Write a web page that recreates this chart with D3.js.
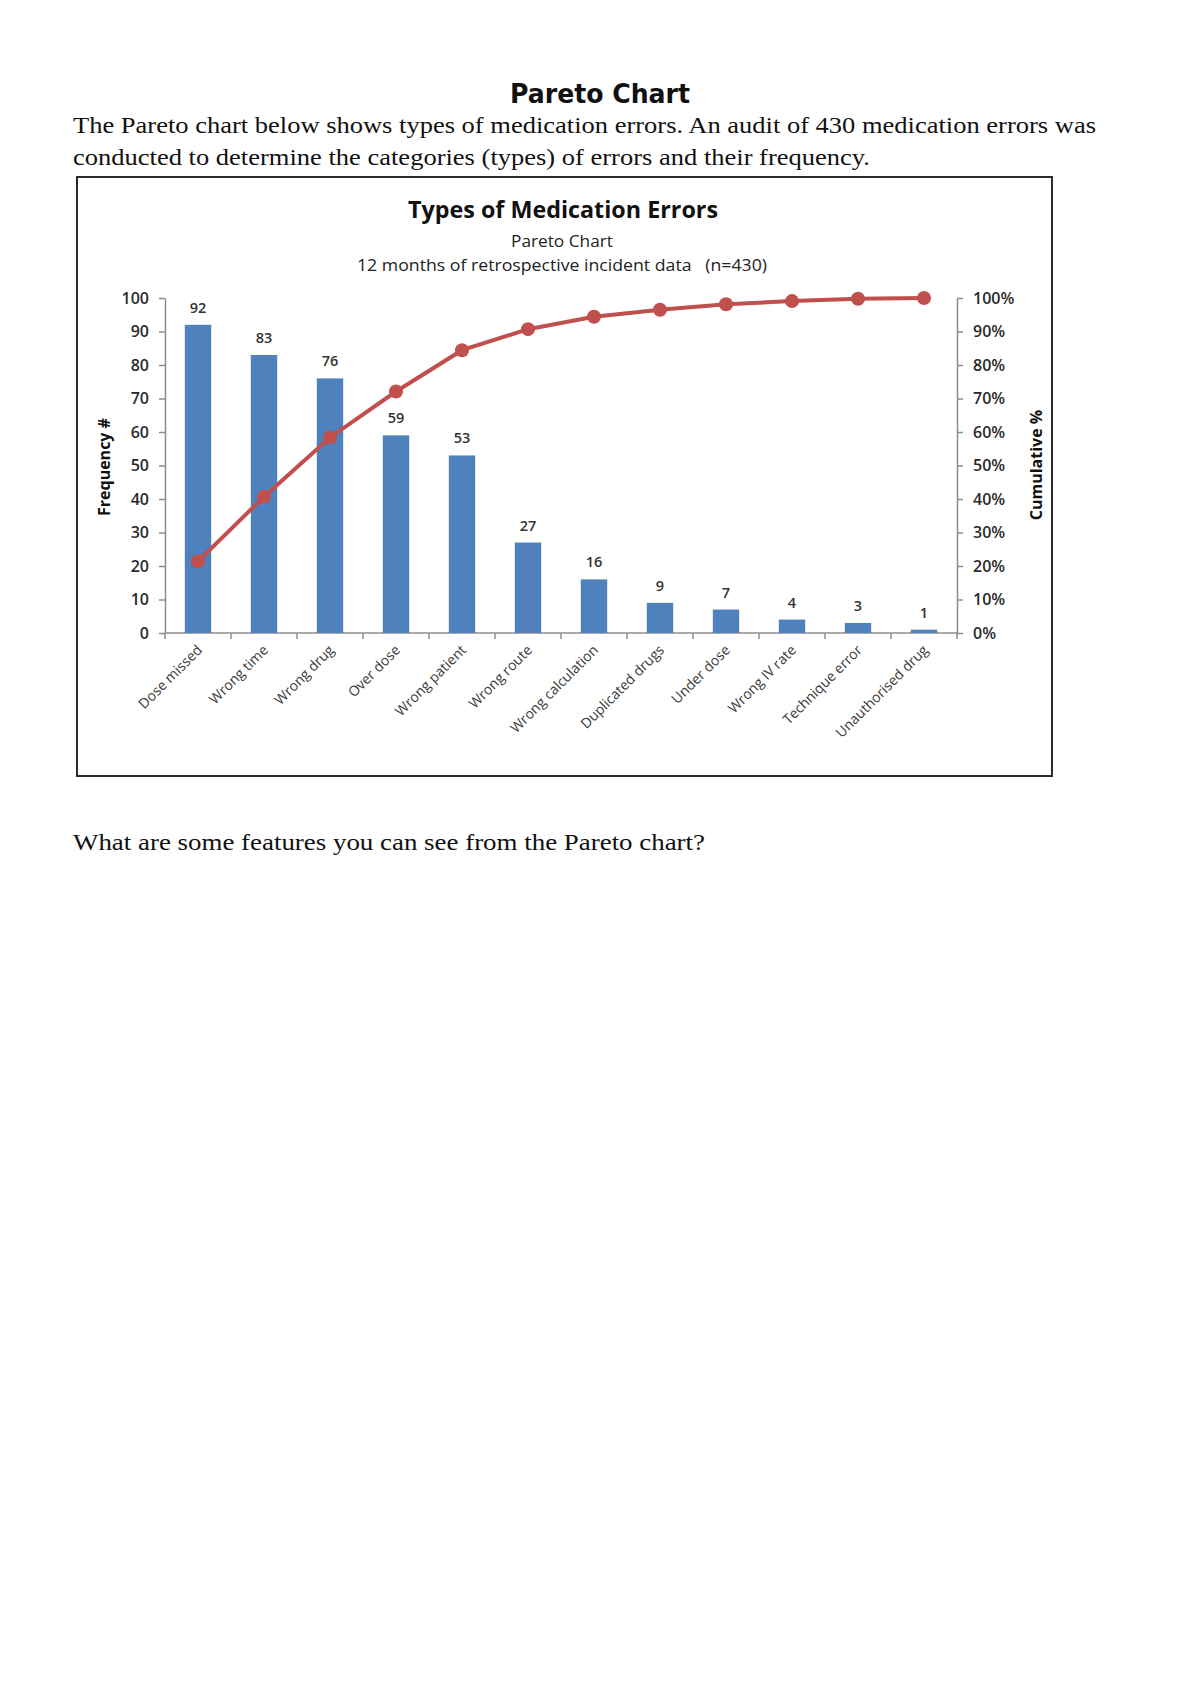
<!DOCTYPE html>
<html>
<head>
<meta charset="utf-8">
<script src="https://cdn.jsdelivr.net/npm/d3@7"></script>
<style>
  body { margin: 0; background: #fff; }
  svg { display: block; }
</style>
</head>
<body>
<div id="chart"></div>
<script>
const width = 1200;
const height = 1696;

// ---- data ----
const categories = [
  "Dose missed", "Wrong time", "Wrong drug", "Over dose", "Wrong patient",
  "Wrong route", "Wrong calculation", "Duplicated drugs", "Under dose",
  "Wrong IV rate", "Technique error", "Unauthorised drug"
];
const frequency = [92, 83, 76, 59, 53, 27, 16, 9, 7, 4, 3, 1];
const freqTicks = [0, 10, 20, 30, 40, 50, 60, 70, 80, 90, 100];
const pctTicks = [0, 0.1, 0.2, 0.3, 0.4, 0.5, 0.6, 0.7, 0.8, 0.9, 1];

const pageTitle = "Pareto Chart";
const introLines = [
  "The Pareto chart below shows types of medication errors. An audit of 430 medication errors was",
  "conducted to determine the categories (types) of errors and their frequency."
];
const question = "What are some features you can see from the Pareto chart?";
const chartTitle = "Types of Medication Errors";
const chartSub1 = "Pareto Chart";
const chartSub2 = "12 months of retrospective incident data   (n=430)";

// cumulative share
const total = d3.sum(frequency);
let run = 0;
const cumulative = frequency.map((v) => (run += v) / total);

const svg = d3
  .select("#chart")
  .append("svg")
  .attr("width", width)
  .attr("height", height);

svg.append("rect").attr("width", width).attr("height", height).attr("fill", "#fff");

//-------page text-------//
svg
  .append("text")
  .attr("x", 600)
  .attr("y", 103)
  .attr("text-anchor", "middle")
  .attr("font-family", "DejaVu Sans")
  .attr("font-weight", "bold")
  .attr("font-size", 27)
  .attr("textLength", 180)
  .attr("lengthAdjust", "spacingAndGlyphs")
  .attr("fill", "#111")
  .text(pageTitle);

const serif = "Liberation Serif";
svg
  .selectAll(".intro")
  .data(introLines)
  .join("text")
  .attr("class", "intro")
  .attr("x", 73)
  .attr("y", (d, i) => 133 + i * 32)
  .attr("font-family", serif)
  .attr("font-size", 24)
  .attr("textLength", (d, i) => (i === 0 ? 1023 : 797))
  .attr("lengthAdjust", "spacingAndGlyphs")
  .attr("fill", "#111")
  .text((d) => d);

svg
  .append("text")
  .attr("x", 73)
  .attr("y", 850)
  .attr("font-family", serif)
  .attr("font-size", 24)
  .attr("textLength", 632)
  .attr("lengthAdjust", "spacingAndGlyphs")
  .attr("fill", "#111")
  .text(question);

//-------chart frame-------//
svg
  .append("rect")
  .attr("x", 77)
  .attr("y", 177)
  .attr("width", 975)
  .attr("height", 599)
  .attr("fill", "#fff")
  .attr("stroke", "#2a2a2a")
  .attr("stroke-width", 2);

const sans = "Open Sans";

svg
  .append("text")
  .attr("x", 563)
  .attr("y", 218)
  .attr("text-anchor", "middle")
  .attr("font-family", sans)
  .attr("font-weight", "bold")
  .attr("font-size", 23)
  .attr("textLength", 310)
  .attr("lengthAdjust", "spacingAndGlyphs")
  .attr("fill", "#111")
  .text(chartTitle);

svg
  .append("text")
  .attr("x", 562)
  .attr("y", 247)
  .attr("text-anchor", "middle")
  .attr("font-family", sans)
  .attr("font-size", 17)
  .attr("textLength", 102)
  .attr("lengthAdjust", "spacingAndGlyphs")
  .attr("fill", "#222")
  .text(chartSub1);

svg
  .append("text")
  .attr("x", 562)
  .attr("y", 271)
  .attr("text-anchor", "middle")
  .attr("font-family", sans)
  .attr("font-size", 17)
  .attr("textLength", 410)
  .attr("lengthAdjust", "spacingAndGlyphs")
  .attr("fill", "#222")
  .style("white-space", "pre")
  .text(chartSub2);

//-------scales-------//
const plot = { left: 165, right: 957, top: 298, bottom: 633 };

const x = d3
  .scaleBand()
  .domain(categories)
  .range([plot.left, plot.right])
  .paddingInner(0.6)
  .paddingOuter(0.3);

const y = d3.scaleLinear().domain([0, 100]).range([plot.bottom, plot.top]);
const yPct = d3.scaleLinear().domain([0, 1]).range([plot.bottom, plot.top]);

const axisColor = "#8c8c8c";
const tickFont = (g) =>
  g
    .call((g) => g.selectAll(".domain").attr("stroke", axisColor).attr("stroke-width", 1.5))
    .call((g) => g.selectAll(".tick line").attr("stroke", axisColor).attr("stroke-width", 1.5))
    .call((g) =>
      g
        .selectAll(".tick text")
        .attr("font-family", sans)
        .attr("font-size", 16)
        .attr("font-weight", 600)
        .attr("fill", "#2a2a2a")
    );

//-------axes-------//
svg
  .append("g")
  .attr("transform", `translate(${plot.left},0)`)
  .call(d3.axisLeft(y).tickValues(freqTicks).tickSize(6).tickPadding(10).tickSizeOuter(0))
  .call(tickFont);

svg
  .append("g")
  .attr("transform", `translate(${plot.right},0)`)
  .call(
    d3
      .axisRight(yPct)
      .tickValues(pctTicks)
      .tickFormat(d3.format(".0%"))
      .tickSize(6)
      .tickPadding(10)
      .tickSizeOuter(0)
  )
  .call(tickFont);

// x axis: ticks sit on band boundaries
const xAxis = svg.append("g").attr("transform", `translate(0,${plot.bottom})`);
xAxis
  .append("line")
  .attr("x1", plot.left)
  .attr("x2", plot.right)
  .attr("stroke", axisColor)
  .attr("stroke-width", 1.5);
const boundaries = d3.range(categories.length + 1).map((i) => plot.left + i * x.step());
xAxis
  .selectAll(".xtick")
  .data(boundaries)
  .join("line")
  .attr("class", "xtick")
  .attr("x1", (d) => d)
  .attr("x2", (d) => d)
  .attr("y1", 0)
  .attr("y2", 6)
  .attr("stroke", axisColor)
  .attr("stroke-width", 1.5);

xAxis
  .selectAll(".xlabel")
  .data(categories)
  .join("text")
  .attr("class", "xlabel")
  .attr("transform", (d) => `translate(${x(d) + x.bandwidth() / 2 + 5},${18}) rotate(-45)`)
  .attr("text-anchor", "end")
  .attr("font-family", sans)
  .attr("font-size", 14)
  .attr("fill", "#3a3a3a")
  .text((d) => d);

// axis titles
svg
  .append("text")
  .attr("transform", "translate(110,467) rotate(-90)")
  .attr("text-anchor", "middle")
  .attr("font-family", sans)
  .attr("font-weight", "bold")
  .attr("font-size", 16)
  .attr("fill", "#111")
  .text("Frequency #");

svg
  .append("text")
  .attr("transform", "translate(1042,465) rotate(-90)")
  .attr("text-anchor", "middle")
  .attr("font-family", sans)
  .attr("font-weight", "bold")
  .attr("font-size", 16)
  .attr("fill", "#111")
  .text("Cumulative %");

//-------bars-------//
svg
  .append("g")
  .selectAll("rect")
  .data(frequency)
  .join("rect")
  .attr("x", (d, i) => x(categories[i]))
  .attr("y", (d) => y(d))
  .attr("width", x.bandwidth())
  .attr("height", (d) => y(0) - y(d))
  .attr("fill", "#4f81bd");

svg
  .append("g")
  .selectAll("text")
  .data(frequency)
  .join("text")
  .attr("x", (d, i) => x(categories[i]) + x.bandwidth() / 2)
  .attr("y", (d) => y(d) - 12)
  .attr("text-anchor", "middle")
  .attr("font-family", sans)
  .attr("font-size", 14.5)
  .attr("font-weight", 600)
  .attr("fill", "#333")
  .text((d) => d);

//-------cumulative line-------//
const line = d3
  .line()
  .x((d, i) => x(categories[i]) + x.bandwidth() / 2)
  .y((d) => yPct(d));

svg
  .append("path")
  .datum(cumulative)
  .attr("d", line)
  .attr("fill", "none")
  .attr("stroke", "#c0504d")
  .attr("stroke-width", 4);

svg
  .append("g")
  .selectAll("circle")
  .data(cumulative)
  .join("circle")
  .attr("cx", (d, i) => x(categories[i]) + x.bandwidth() / 2)
  .attr("cy", (d) => yPct(d))
  .attr("r", 7)
  .attr("fill", "#c0504d");
</script>
</body>
</html>
